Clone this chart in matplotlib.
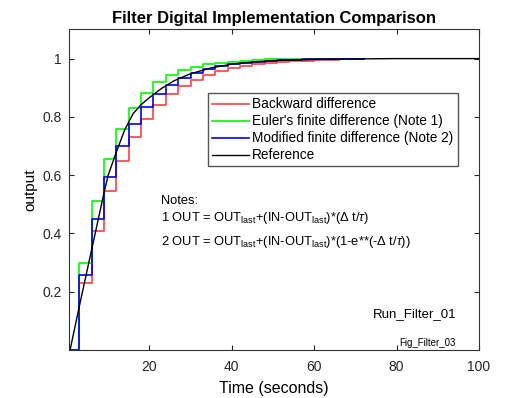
import matplotlib
matplotlib.use('Agg')
import matplotlib.pyplot as plt

plt.rcParams['font.family'] = ['Liberation Sans', 'DejaVu Sans']
plt.rcParams['mathtext.fontset'] = 'custom'
plt.rcParams['mathtext.rm'] = 'Liberation Sans'
plt.rcParams['mathtext.it'] = 'Liberation Sans:italic'

###数据###
t_step = [0, 3, 6, 9, 12, 15, 18, 21, 24, 27, 30, 33, 36, 39, 42, 45,
          48, 51, 54, 57, 60, 63, 66, 69, 72]
y_backward = [0, 0.231, 0.408, 0.545, 0.650, 0.731, 0.793, 0.841, 0.877,
              0.906, 0.927, 0.944, 0.957, 0.967, 0.975, 0.980, 0.985, 0.988,
              0.991, 0.993, 0.995, 0.996, 0.997, 0.998, 0.998]
y_euler = [0, 0.300, 0.510, 0.657, 0.760, 0.832, 0.882, 0.918, 0.942, 0.960,
           0.972, 0.980, 0.986, 0.990, 0.993, 0.995, 0.997, 0.998, 0.998,
           0.999, 0.999, 1.0, 1.0, 1.0, 1.0]
y_modified = [0, 0.259, 0.451, 0.593, 0.699, 0.777, 0.835, 0.878, 0.909,
              0.933, 0.950, 0.963, 0.973, 0.980, 0.985, 0.989, 0.992, 0.994,
              0.995, 0.997, 0.998, 0.998, 0.999, 0.999, 0.999]

t_ref = [0.75, 3, 6, 9, 10, 12, 14, 16, 18, 20, 23, 26, 30, 35, 40, 45, 50,
         60, 70, 80, 100]
y_ref = [0, 0.15, 0.345, 0.54, 0.6, 0.68, 0.755, 0.81, 0.842, 0.866, 0.898,
         0.924, 0.948, 0.968, 0.981, 0.988, 0.993, 0.997, 0.999, 1.0, 1.0]

labels = ['Backward difference', "Euler's finite difference (Note 1)",
          'Modified finite difference (Note 2)', 'Reference']
xticks = [20, 40, 60, 80, 100]
yticks = [0.2, 0.4, 0.6, 0.8, 1]

fig = plt.figure(figsize=(5.31, 3.98), dpi=100)
ax = fig.add_axes([0.130, 0.1206, 0.772, 0.8054])

ax.step(t_step, y_backward, where='post', color='#ff3030', lw=1.3, alpha=0.85, label=labels[0])
ax.step(t_step, y_euler, where='post', color='#22ff22', lw=1.4, label=labels[1])
ax.step(t_step, y_modified, where='post', color='#0000ff', lw=1.2, label=labels[2])
ax.plot(t_ref, y_ref, color='black', lw=1.0, label=labels[3])

ax.set_xlim(0.5, 100)
ax.set_ylim(0, 1.1)
ax.set_xticks(xticks)
ax.set_yticks(yticks)
ax.set_yticklabels(['0.2', '0.4', '0.6', '0.8', '1'])
ax.tick_params(direction='in', length=3.5, width=0.8, top=True, right=True,
               labelsize=10, colors='#262626')
ax.tick_params(axis='x', pad=7)
ax.tick_params(axis='y', pad=5)
for s in ax.spines.values():
    s.set_color('#333333')
    s.set_linewidth(0.8)

ax.set_title('Filter Digital Implementation Comparison', fontsize=12,
             fontweight='bold', pad=5)
ax.set_xlabel('Time (seconds)', fontsize=11.5, labelpad=5)
ax.set_ylabel('output', fontsize=11, labelpad=4)

leg = ax.legend(loc='upper left', bbox_to_anchor=(0.339, 0.801), borderaxespad=0,
                fontsize=9.8, handlelength=2.7, handletextpad=0.25,
                labelspacing=0.22, borderpad=0.3, fancybox=False, framealpha=1)
leg.get_frame().set_edgecolor('#555555')
leg.get_frame().set_linewidth(1.0)

ax.text(22.8, 0.51, 'Notes:', fontsize=9.3, va='center')
ax.text(22.8, 0.452, r'1 OUT = OUT$_{\mathrm{last}}$+(IN-OUT$_{\mathrm{last}}$)*(Δ t/$\tau$)',
        fontsize=9.3, va='center')
ax.text(22.8, 0.372, r'2 OUT = OUT$_{\mathrm{last}}$+(IN-OUT$_{\mathrm{last}}$)*(1-e**(-Δ t/$\tau$))',
        fontsize=9.3, va='center')
ax.text(74.2, 0.124, 'Run_Filter_01', fontsize=9.5, va='center')
ax.text(80.6, 0.025, 'Fig_Filter_03', fontsize=7, va='center')

fig.savefig('out.png', dpi=100)
